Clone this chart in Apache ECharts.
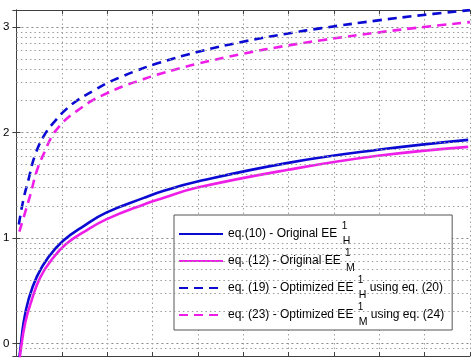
<!DOCTYPE html>
<html>
<head>
<meta charset="utf-8">
<script src="https://cdn.jsdelivr.net/npm/echarts@6/dist/echarts.min.js"></script>
<style>html,body{margin:0;padding:0;background:#fff}#c{width:474px;height:361px}</style>
</head>
<body>
<div id="c"></div>
<script>
// ---- data ----
const solidHx = [0.065, 0.087, 0.159, 0.268, 0.451, 0.704, 1.03, 1.50, 1.98, 2.81, 3.25, 3.97, 5.99, 7.97, 9.96];
const solidHy = [0.74, 0.877, 1.58, 2.61, 4.30, 6.55, 9.4, 13.1, 17.4, 24.0, 28.0, 34.1, 51.5, 68.5, 85.1];
const solidMx = [0.075, 0.087, 0.196, 0.342, 0.523, 0.778, 1.10, 1.50, 1.98, 2.81, 3.25, 3.97, 5.99, 7.97, 9.96];
const solidMy = [0.70, 0.82, 1.58, 2.61, 4.21, 6.23, 8.8, 11.5, 15.0, 20.8, 24.0, 29.9, 44.3, 60.1, 73.1];
const dashHx = [0.054, 0.153, 0.261, 0.414, 0.632, 0.850, 1.024, 1.329, 1.721, 1.983, 2.309, 2.658, 3.094, 3.965, 4.989, 5.991, 6.732, 7.974, 8.976, 10.0];
const dashHy = [13.4, 23.0, 35.0, 61.4, 97.0, 128, 155, 200, 252, 292, 337, 387, 450, 576, 724, 869, 976, 1156, 1301, 1445];
const dashMx = [0.065, 0.196, 0.305, 0.458, 0.632, 0.784, 0.959, 1.133, 1.351, 1.656, 1.983, 2.375, 2.745, 3.094, 3.638, 3.965, 4.989, 5.991, 6.732, 7.974, 8.976, 10.0];
const dashMy = [11.5, 17.7, 25.5, 44.3, 67.0, 92.0, 116, 138, 162, 199, 234, 276, 314, 352, 410, 446, 558, 669, 750, 888, 1000, 1113];

const seriesNames = ['eq.(10) - Original EE', 'eq. (12) - Original EE', 'eq. (19) - Optimized EE', 'eq. (23) - Optimized EE'];
const seriesSup = ['1', '1', '1', '1'];
const seriesSub = ['H', 'M', 'H', 'M'];
const seriesSuffix = ['', '', ' using eq. (20)', ' using eq. (24)'];
const minorGrid = [0.9, 2, 3, 4, 5, 6, 7, 8, 9, 20, 30, 40, 50, 60, 70, 80, 90, 200, 300, 400, 500, 600, 700, 800, 900];
const xMin = 0, xMax = 10, xStep = 1;
const yMin = 0.76, yMax = 1450;

// ---- chart ----
const BLUE = '#0a0ad2', MAG = '#ee1ee8';
const zip = (xs, ys) => xs.map((x, i) => [x, ys[i]]);
const names = seriesNames.map((n, i) => n + '_' + seriesSub[i] + '^' + seriesSup[i] + seriesSuffix[i]);
const FONT = 'Liberation Sans, Arial, sans-serif';

function mkSeries(i, xs, ys, color, dashed) {
  return {
    name: names[i], type: 'line', data: zip(xs, ys), symbol: 'none', smooth: 0.45,
    lineStyle: { color: color, width: 2.6, type: dashed ? [9, 6] : 'solid' },
    itemStyle: { color: color }, z: 3
  };
}
const series = [
  mkSeries(0, solidHx, solidHy, BLUE, false),
  mkSeries(1, solidMx, solidMy, MAG, false),
  mkSeries(2, dashHx, dashHy, BLUE, true),
  mkSeries(3, dashMx, dashMy, MAG, true)
];
series[0].markLine = {
  silent: true, symbol: 'none', label: { show: false }, animation: false,
  lineStyle: { color: '#9a9a9a', type: [1.5, 3], width: 1 },
  data: minorGrid.map(v => ({ yAxis: v }))
};

const isPow10 = v => Math.abs(Math.log10(v) - Math.round(Math.log10(v))) < 1e-6;
const chart = echarts.init(document.getElementById('c'), null, { renderer: 'canvas' });
chart.setOption({
  animation: false,
  backgroundColor: '#fff',
  grid: { left: 11, right: 4, top: 10, bottom: 5, containLabel: false },
  xAxis: [
    { type: 'value', min: xMin, max: xMax, interval: xStep, position: 'bottom',
      axisLine: { show: true, lineStyle: { color: '#404040', width: 1 } },
      axisTick: { show: true, inside: true, length: 4, lineStyle: { color: '#404040' } },
      axisLabel: { show: false },
      splitLine: { show: true, lineStyle: { color: '#a0a0a0', type: [1.5, 3], width: 1 } } },
    { type: 'value', min: xMin, max: xMax, interval: xStep, position: 'top',
      axisLine: { show: true, lineStyle: { color: '#404040', width: 1 } },
      axisTick: { show: true, inside: true, length: 4, lineStyle: { color: '#404040' } },
      axisLabel: { show: false }, splitLine: { show: false } }
  ],
  yAxis: [
    { type: 'log', logBase: 10, min: yMin, max: yMax, position: 'left',
      axisLine: { show: true, lineStyle: { color: '#404040', width: 1 } },
      axisTick: { show: true, inside: true, length: 4, lineStyle: { color: '#404040' } },
      axisLabel: { show: true, margin: 7, fontSize: 11.5, color: '#000', fontFamily: FONT,
        formatter: v => isPow10(v) ? String(Math.round(Math.log10(v))) : '' },
      splitLine: { show: true, lineStyle: { color: '#8a8a8a', type: [2, 3], width: 1 } } },
    { type: 'log', logBase: 10, min: yMin, max: yMax, position: 'right',
      axisLine: { show: true, lineStyle: { color: '#404040', width: 1 } },
      axisTick: { show: true, inside: true, length: 4, lineStyle: { color: '#404040' } },
      axisLabel: { show: false }, splitLine: { show: false } }
  ],
  legend: {
    orient: 'vertical', left: 174, top: 215,
    padding: [6, 8, 2, 4], itemGap: 1, itemWidth: 44, itemHeight: 26,
    backgroundColor: '#fff', borderColor: '#555', borderWidth: 1,
    selectedMode: false,
    itemStyle: { opacity: 0, borderWidth: 0 },
    data: names,
    formatter: function (name) {
      const i = names.indexOf(name);
      let s = '{t|' + seriesNames[i] + ' }{sp|' + seriesSup[i] + '}{sb|' + seriesSub[i] + '}';
      if (seriesSuffix[i]) s += '{t|' + seriesSuffix[i] + '}';
      return s;
    },
    textStyle: {
      fontFamily: FONT, color: '#000',
      rich: {
        t: { fontSize: 12, fontFamily: FONT, color: '#000', lineHeight: 26 },
        sp: { fontSize: 10, fontFamily: FONT, color: '#000', lineHeight: 14, verticalAlign: 'top', width: 1, padding: [0, 0, 0, 1] },
        sb: { fontSize: 10.5, fontFamily: FONT, color: '#000', lineHeight: 10, verticalAlign: 'bottom' }
      }
    }
  },
  series: series
});
</script>
</body>
</html>
